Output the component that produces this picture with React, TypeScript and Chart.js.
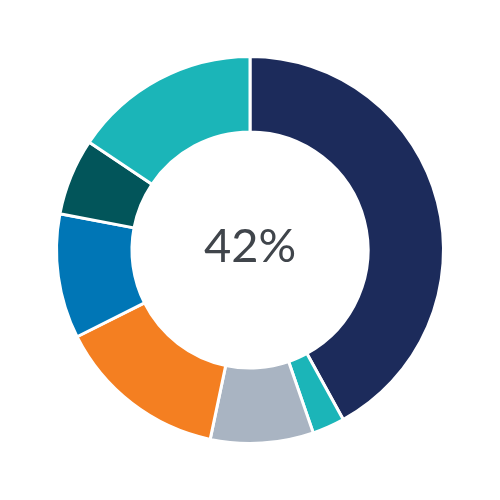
import { useEffect, useRef } from 'react';
import { Chart, registerables } from 'chart.js';

Chart.register(...registerables);

const labels = ['A', 'B', 'C', 'D', 'E', 'F', 'G'];
const values = [42, 2.7, 8.6, 14.3, 10.4, 6.4, 15.6];
const colors = ['#1c2b5b', '#1bb5b8', '#a9b4c2', '#f47f21', '#0076b6', '#02555a', '#1bb5b8'];
const centerLabel = '42%';

const centerText = {
  id: 'centerText',
  afterDraw(chart: Chart) {
    const { ctx, chartArea } = chart;
    const x = (chartArea.left + chartArea.right) / 2;
    const y = (chartArea.top + chartArea.bottom) / 2;
    ctx.save();
    ctx.font = '400 47px Lato, "Open Sans", sans-serif';
    ctx.fillStyle = '#40454b';
    ctx.textAlign = 'center';
    ctx.textBaseline = 'middle';
    ctx.fillText(centerLabel, x, y - 3);
    ctx.restore();
  },
};

export default function App() {
  const canvasRef = useRef<HTMLCanvasElement>(null);

  useEffect(() => {
    if (!canvasRef.current) return;
    const chart = new Chart(canvasRef.current, {
      type: 'doughnut',
      data: {
        labels,
        datasets: [
          {
            data: values,
            backgroundColor: colors,
            borderColor: '#ffffff',
            borderWidth: 3,
          },
        ],
      },
      options: {
        animation: false,
        responsive: true,
        maintainAspectRatio: false,
        cutout: '61%',
        layout: { padding: 55 },
        plugins: {
          legend: { display: false },
          tooltip: { enabled: false },
        },
      },
      plugins: [centerText],
    });
    return () => chart.destroy();
  }, []);

  return (
    <div style={{ position: 'absolute', left: 0, top: 0, width: 500, height: 500, background: '#fff' }}>
      <canvas ref={canvasRef} />
    </div>
  );
}
